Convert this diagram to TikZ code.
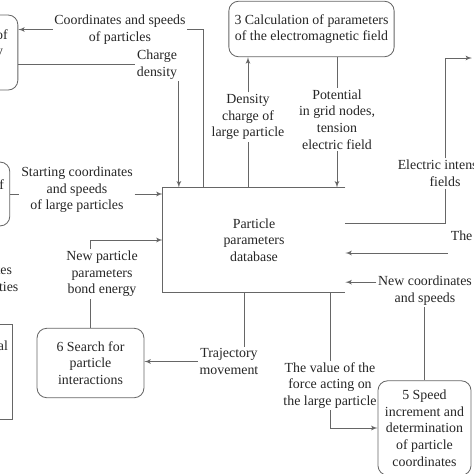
\documentclass[tikz,border=0pt]{standalone}
\usepackage{fontspec}
\setmainfont{Liberation Serif}
\usetikzlibrary{positioning,shapes,arrows}
\tikzset{
  process/.style={
    % The shape:
    rectangle,
    rounded corners=7pt,
    % The border:
    semithick,
    draw=black!60,
    % The text:
    align=center,
    text=black!85
  },
  entity/.style={
    % like a process, but with sharp corners
    rectangle,
    semithick,draw=black!60,
    align=center,text=black!85},
  store/.style={
    % no border here, three sides are drawn by hand
    rectangle,
    minimum width=131pt,minimum height=75pt,
    align=center,text=black!85},
  flow/.style={align=center,inner sep=1pt,text=black!85}
}

\begin{document}
\begin{tikzpicture}[x=0.72pt,y=-0.72pt,point/.style={coordinate},>=latex',
                    semithick,draw=black!60,
                    tip/.style={->}]     % one unit is one pixel of the sketch
  \useasboundingbox (0,0) rectangle (474,474);
  \clip (0,0) rectangle (474,474);

  % processes
  \node (box1)  [process,minimum width=79pt,minimum height=54pt] at (-37,52.5)
        {2 Calculation of\\ charge density\\ in grid nodes};
  \node (box2)  [process,minimum width=71pt,minimum height=46pt] at (-39.5,194)
        {1 Generation of\\ large particles};
  \node (box3)  [process,minimum width=119pt,minimum height=40pt] at (311.5,29)
        {3 Calculation of parameters\\ of the electromagnetic field};
  \node (box4)  [entity,minimum width=73pt,minimum height=68pt] at (-38.5,372)
        {4 Output of final\\ results of\\ the\\ modelling};
  \node (box5)  [process,minimum width=67pt,minimum height=68pt] at (424.5,428)
        {5 Speed\\ increment and\\ determination\\ of particle\\ coordinates};
  \node (box6)  [process,minimum width=77pt,minimum height=50pt] at (90.5,363)
        {6 Search for\\ particle\\ interactions};
  \node (store) [store] at (254,240) {Particle\\ parameters\\ database};
  \draw (store.north east) -- (store.north west) -- (store.south west) -- (store.south east);

  % flow labels
  \node (lCoord) [flow] at (120,29.5)  {Coordinates and speeds\\ of particles};
  \node (lCharge)[flow] at (157,64.5)  {Charge\\ density};
  \node (lDens)  [flow] at (248,117)   {Density\\ charge of\\ large particle};
  \node (lPot)   [flow] at (337,119.5) {Potential\\ in grid nodes,\\ tension\\ electric field};
  \node (lElec)  [flow] at (445,173.5) {Electric intensity\\ fields};
  \node (lThe)   [flow,anchor=base west] at (449,240) {The value of the force};
  \node (lNew)   [flow] at (425,290.5) {New coordinates\\ and speeds};
  \node (lForce) [flow] at (330,385.5) {The value of the\\ force acting on\\ the large particle};
  \node (lTraj)  [flow] at (229,361.5) {Trajectory\\ movement};
  \node (lBond)  [flow] at (102,274)   {New particle\\ parameters\\ bond energy};
  \node (lStart) [flow] at (77,190)    {Starting coordinates\\ and speeds\\ of large particles};
  \node (lLeft)  [flow] at (-20,278.5) {coordinates\\ and velocities};

  \node (p1) [point] at (203,188) {};
  \node (p2) [point] at (345,223) {};
  \node (p3) [point] at (472,58)  {};
  \node (p4) [point] at (448,253) {};

  % connectors
  \draw (p1) |- (lCoord.east);
  \draw[tip] (lCoord.west) -- (lCoord.west -| box1.east);
  \draw (box1.east |- lCharge.west) -- (lCharge.west);
  \draw[tip] (lCharge.south east) -- (lCharge.south east |- store.north);
  \draw (lDens.south |- store.north) -- (lDens.south);
  \draw[tip] (lDens.north) -- (lDens.north |- box3.south);
  \draw (lPot.north |- box3.south) -- (lPot.north);
  \draw[tip] (lPot.south) -- (lPot.south |- store.north);
  \draw (p2) -| (lElec.south);
  \draw[tip] (lElec.north) |- (p3);
  \draw[tip] (p4) -- (p4 -| store.east);
  \draw (box5.north) -- (box5.north |- lNew.south);
  \draw[tip] ([yshift=6pt]lNew.west) -- ([yshift=6pt]lNew.west -| store.east);
  \draw (lForce.north |- store.south) -- (lForce.north);
  \draw[tip] (lForce.south) |- (box5.west);
  \draw ([xshift=11pt]lTraj.north |- store.south) -- ([xshift=11pt]lTraj.north);
  \draw[tip] (lTraj.west) -- (lTraj.west -| box6.east);
  \draw (box6.north) -- (box6.north |- lBond.south);
  \draw[tip] (box6.north |- lBond.north) |- (store.west);
  \draw (box2.east) -- (box2.east -| lStart.west);
  \draw[tip] (lStart.east |- box2.east) -- (box2.east -| store.west);
\end{tikzpicture}
\end{document}
